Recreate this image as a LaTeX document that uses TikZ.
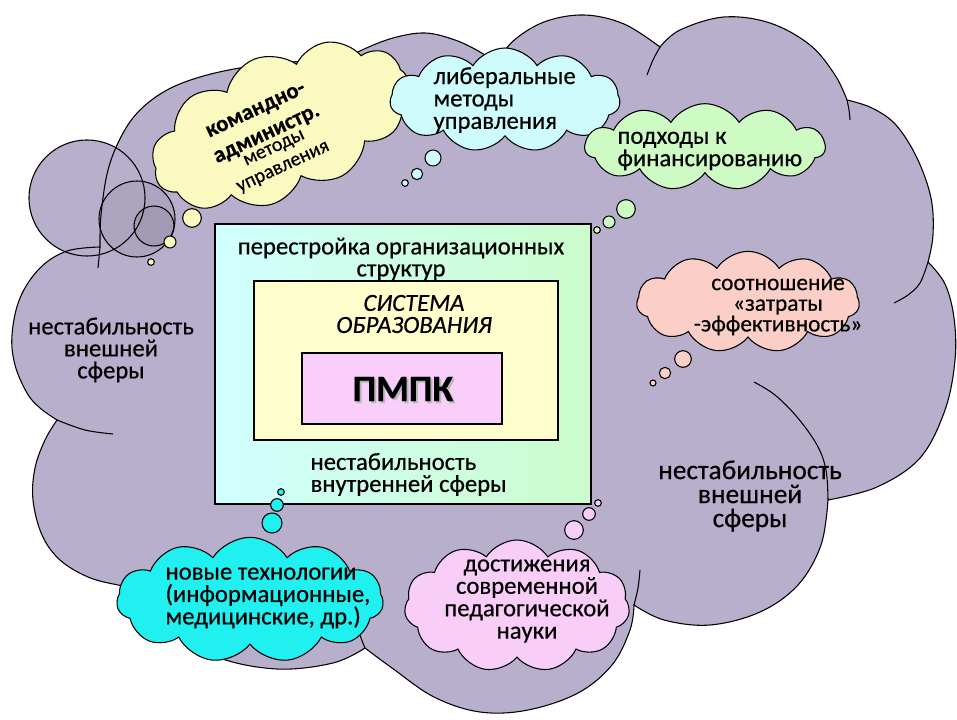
\documentclass[tikz,border=0pt]{standalone}
\usepackage{fontspec}
\setmainfont{Carlito}[FakeBold=0.5]
\usetikzlibrary{shapes.symbols}
\definecolor{lav}{RGB}{184,175,204}
\definecolor{ylw}{RGB}{250,250,192}
\definecolor{lblue}{RGB}{206,252,252}
\definecolor{lgreen}{RGB}{206,250,196}
\definecolor{salm}{RGB}{252,206,200}
\definecolor{cyanc}{RGB}{32,240,240}
\definecolor{magc}{RGB}{248,206,248}
\definecolor{boxL}{RGB}{208,255,255}
\definecolor{boxR}{RGB}{204,252,204}
\definecolor{boxY}{RGB}{255,255,206}
\definecolor{boxP}{RGB}{250,206,250}
\newcommand\fN{\fontsize{18.5}{16.5}\selectfont}
\newcommand\fR{\fontsize{20.5}{18}\selectfont}
\newcommand\fC{\fontsize{18.5}{16.8}\selectfont}
\newcommand\fS{\fontsize{17.5}{15.5}\selectfont}
\newcommand\fYb{\fontsize{17}{17}\selectfont\bfseries}
\newcommand\fYr{\fontsize{15}{15}\selectfont}
\newcommand\fP{\fontsize{28}{28}\selectfont\bfseries}
\begin{document}
\begin{tikzpicture}[x=0.75pt,y=-0.75pt, line width=0.8pt,
  bub/.style={cloud, cloud puffs=11, cloud puff arc=115, cloud ignores aspect, draw=black, inner sep=0pt},
  dot/.style={circle, draw=black, inner sep=0pt},
  txt/.style={inner sep=0pt, text=black},
  inl/.style={line width=0.8pt}
]
\useasboundingbox (0,0) rectangle (957,720);
% background fill of left circle
\fill[lav] (87,198) circle[radius=58];
% big cloud
\path[fill=lav, draw=black]
  (150,590)
  -- plot[smooth,tension=0.6] coordinates {(150,590) (118,585) (88,577) (60,560) (42,535) (33,500) (35,468) (45,440) (57,420)}
  -- plot[smooth,tension=0.6] coordinates {(57,420) (40,408) (27,393) (15,365) (12,335) (20,298) (40,268) (67,251) (100,247)}
  -- plot[smooth,tension=0.6] coordinates {(100,247) (101,215) (108,170) (122,135) (140,110) (167,90) (200,77) (240,68) (290,62) (340,62)}
  -- plot[smooth,tension=0.6] coordinates {(340,62) (362,50) (393,38) (425,33) (455,40) (480,52) (497,64)}
  -- plot[smooth,tension=0.6] coordinates {(497,64) (512,42) (544,22) (584,15) (624,24) (660,47)}
  -- plot[smooth,tension=0.6] coordinates {(660,47) (680,30) (724,17) (770,23) (810,45) (835,75) (847,100)}
  -- plot[smooth,tension=0.6] coordinates {(847,100) (872,108) (896,125) (917,158) (931,198) (933,235) (928,262)}
  -- plot[smooth,tension=0.6] coordinates {(928,262) (945,284) (954,318) (955,360) (945,410) (920,458) (877,487) (828,500)}
  -- plot[smooth,tension=0.6] coordinates {(828,500) (821,545) (798,585) (760,612) (710,625) (664,620) (634,605)}
  -- plot[smooth,tension=0.6] coordinates {(634,605) (630,630) (612,665) (578,693) (528,710) (480,712) (434,697) (392,668) (365,648)}
  -- plot[smooth,tension=0.6] coordinates {(365,648) (333,663) (277,669) (217,657) (172,628) (150,590)}
  -- cycle;
% inner arcs of the big cloud
\draw[inl] plot[smooth,tension=0.6] coordinates {(100,247) (99,258) (98,268)};
\draw[inl] plot[smooth,tension=0.6] coordinates {(57,420) (85,430) (113,434)};
\draw[inl] plot[smooth,tension=0.6] coordinates {(660,47) (653,60) (647,75)};
\draw[inl] plot[smooth,tension=0.6] coordinates {(847,100) (849,110) (850,120)};
\draw[inl] plot[smooth,tension=0.6] coordinates {(928,262) (920,283) (908,295) (894,303)};
\draw[inl] plot[smooth,tension=0.6] coordinates {(828,500) (826,470) (817,445) (797,417) (775,395) (754,382)};
\draw[inl] plot[smooth,tension=0.6] coordinates {(634,605) (638,588) (640,570)};
\draw[inl] plot[smooth,tension=0.6] coordinates {(365,648) (360,635) (358,623)};
% decorative circles
\draw (87,198) circle[radius=58];
\draw[fill=black, fill opacity=0.06] (137,219) circle[radius=38];
\draw[fill=black, fill opacity=0.06] (154,226) circle[radius=20];

% central boxes
\draw[left color=boxL, right color=boxR] (215,224) rectangle (591,504);
\draw[fill=boxY] (254,281) rectangle (558,440);
\draw[fill=boxP] (302,353) rectangle (502,424);
\node[txt, font=\fN, align=center] (t1) at (401,259) {перестройка организационных\\структур};
\node[txt, font=\fN\itshape, align=center] (t2) at (414,314) {СИСТЕМА\\ОБРАЗОВАНИЯ};
\node[txt, font=\fP, text=black!28] (t3s) at (405,391) {ПМПК};
\node[txt, font=\fP] (t3) at (403,389) {ПМПК};
\node[txt, font=\fN, align=left, anchor=west] (t4) at (310,474.5) {нестабильность\\внутренней сферы};

% outer texts
\node[txt, font=\fN, align=center] (oL) at (111,350) {нестабильность\\внешней\\сферы};
\node[txt, font=\fR, align=center] (oR) at (750,496) {нестабильность\\внешней\\сферы};

% yellow cloud
\node[dot, fill=ylw, minimum size=14pt] (y1) at (192,218) {};
\node[dot, fill=ylw, minimum size=9pt] (y2) at (170,242) {};
\node[dot, fill=ylw, minimum size=5pt] (y3) at (151,262) {};
\node[bub, fill=ylw, minimum width=204pt, minimum height=108pt, rotate=22] (cy) at (281,126) {};
\node[txt, font=\fYb, rotate=25, anchor=base] (ya) at (258,115) {командно-};
\node[txt, font=\fYb, rotate=25, anchor=base] (yb) at (269,139) {администр.};
\node[txt, font=\fYr, rotate=25, anchor=base] (yc) at (276,152) {методы};
\node[txt, font=\fYr, rotate=25, anchor=base] (yd) at (285,171) {управления};

% blue cloud
\node[dot, fill=lblue, minimum size=12pt] (b1) at (433,158) {};
\node[dot, fill=lblue, minimum size=8.5pt] (b2) at (417,174) {};
\node[dot, fill=lblue, minimum size=5pt] (b3) at (405,183) {};
\node[bub, fill=lblue, minimum width=172.5pt, minimum height=78pt] (cb) at (505,100) {};
\node[txt, font=\fC, align=left, anchor=west] (bt) at (433,100) {либеральные\\методы\\управления};

% green cloud
\node[dot, fill=lgreen, minimum size=14pt] (g1) at (626,209) {};
\node[dot, fill=lgreen, minimum size=9pt] (g2) at (609,222) {};
\node[dot, fill=lgreen, minimum size=5pt] (g3) at (597,230) {};
\node[bub, fill=lgreen, minimum width=180pt, minimum height=65pt] (cg) at (705,147) {};
\node[txt, font=\fC, align=left, anchor=west] (gt) at (617,151) {подходы к\\финансированию};

% salmon cloud
\node[dot, fill=salm, minimum size=12.5pt] (s1) at (683,359) {};
\node[dot, fill=salm, minimum size=8.5pt] (s2) at (665,373) {};
\node[dot, fill=salm, minimum size=4.5pt] (s3) at (653,383) {};
\node[bub, fill=salm, minimum width=167pt, minimum height=76pt] (cs) at (748,302) {};
\node[txt, font=\fS, align=center] (st) at (778,307) {соотношение\\«затраты\\-эффективность»};

% cyan cloud
\node[dot, fill=cyanc, minimum size=15pt] (c1) at (272,523) {};
\node[dot, fill=cyanc, minimum size=9.5pt] (c2) at (277,505) {};
\node[dot, fill=cyanc, minimum size=5pt] (c3) at (281,492) {};
\node[bub, fill=cyanc, minimum width=200pt, minimum height=94pt] (cc) at (250,600) {};
\node[txt, font=\fC, align=left, anchor=west] (ct) at (165,598) {новые технологии\\(информационные,\\медицинские, др.)};

% magenta cloud
\node[dot, fill=magc, minimum size=14pt] (m1) at (574,530) {};
\node[dot, fill=magc, minimum size=9.5pt] (m2) at (589,514) {};
\node[dot, fill=magc, minimum size=5pt] (m3) at (598,503) {};
\node[bub, fill=magc, minimum width=169pt, minimum height=99pt] (cm) at (517,606) {};
\node[txt, font=\fC, align=center] (mt) at (527,601) {достижения\\современной\\педагогической\\науки};
\end{tikzpicture}
\end{document}
